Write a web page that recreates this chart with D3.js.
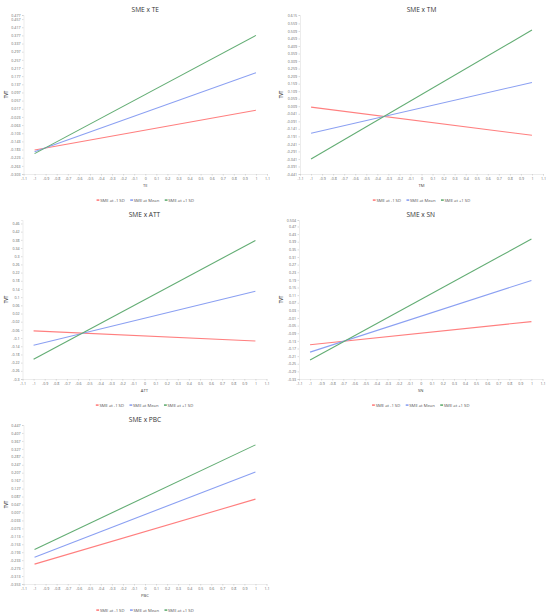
<!DOCTYPE html>
<html>
<head>
<meta charset="utf-8">
<script src="https://cdn.jsdelivr.net/npm/d3@7"></script>
<style>
  html, body { margin: 0; padding: 0; background: #fff; }
  svg { display: block; font-family: "Open Sans", "Noto Sans", sans-serif; }
</style>
</head>
<body>
<svg id="chart" width="550" height="616"></svg>
<script>
// ---------- data ----------
const xValues = [-1, 1];
const seriesNames = ["SME at -1 SD", "SME at Mean", "SME at +1 SD"];
const xTicks = [-1.1, -1, -0.9, -0.8, -0.7, -0.6, -0.5, -0.4, -0.3, -0.2, -0.1, 0, 0.1, 0.2, 0.3, 0.4, 0.5, 0.6, 0.7, 0.8, 0.9, 1, 1.1];

const panelTitles = ["SME x TE", "SME x TM", "SME x ATT", "SME x SN", "SME x PBC"];
const xTitles = ["TE", "TM", "ATT", "SN", "PBC"];

const teLow = [-0.185, 0.010];
const teMean = [-0.194, 0.194];
const teHigh = [-0.203, 0.377];
const teYTicks = [-0.303, -0.263, -0.223, -0.183, -0.143, -0.103, -0.063, -0.023, 0.017, 0.057, 0.097, 0.137, 0.177, 0.217, 0.257, 0.297, 0.337, 0.377, 0.417, 0.457, 0.477];
const teYDomain = [-0.303, 0.477];

const tmLow = [0.003, -0.184];
const tmMean = [-0.170, 0.167];
const tmHigh = [-0.341, 0.515];
const tmYTicks = [-0.441, -0.391, -0.341, -0.291, -0.241, -0.191, -0.141, -0.091, -0.041, 0.009, 0.059, 0.109, 0.159, 0.209, 0.259, 0.309, 0.359, 0.409, 0.459, 0.509, 0.559, 0.615];
const tmYDomain = [-0.441, 0.615];

const attLow = [-0.065, -0.114];
const attMean = [-0.135, 0.129];
const attHigh = [-0.204, 0.377];
const attYTicks = [-0.3, -0.26, -0.22, -0.18, -0.14, -0.1, -0.06, -0.02, 0.02, 0.06, 0.1, 0.14, 0.18, 0.22, 0.26, 0.3, 0.34, 0.38, 0.42, 0.46];
const attYDomain = [-0.3, 0.477];

const snLow = [-0.150, -0.029];
const snMean = [-0.189, 0.187];
const snHigh = [-0.230, 0.404];
const snYTicks = [-0.33, -0.29, -0.25, -0.21, -0.17, -0.13, -0.09, -0.05, -0.01, 0.03, 0.07, 0.11, 0.15, 0.19, 0.23, 0.27, 0.31, 0.35, 0.39, 0.43, 0.47, 0.504];
const snYDomain = [-0.33, 0.504];

const pbcLow = [-0.253, 0.074];
const pbcMean = [-0.218, 0.211];
const pbcHigh = [-0.179, 0.347];
const pbcYTicks = [-0.353, -0.313, -0.273, -0.233, -0.193, -0.153, -0.113, -0.073, -0.033, 0.007, 0.047, 0.087, 0.127, 0.167, 0.207, 0.247, 0.287, 0.327, 0.367, 0.407, 0.447];
const pbcYDomain = [-0.353, 0.447];

// ---------- styling / layout ----------
const colors = ["#ff7f7f", "#8ba0f2", "#63ad74"];
const panels = [
  { series: [teLow, teMean, teHigh], ticks: teYTicks, domain: teYDomain, ox: 0, oy: 0, left: 23.5, right: 267 },
  { series: [tmLow, tmMean, tmHigh], ticks: tmYTicks, domain: tmYDomain, ox: 275, oy: 0, left: 25, right: 268 },
  { series: [attLow, attMean, attHigh], ticks: attYTicks, domain: attYDomain, ox: 0, oy: 205, left: 22.5, right: 266.5 },
  { series: [snLow, snMean, snHigh], ticks: snYTicks, domain: snYDomain, ox: 275, oy: 205, left: 24, right: 267.5 },
  { series: [pbcLow, pbcMean, pbcHigh], ticks: pbcYTicks, domain: pbcYDomain, ox: 0, oy: 410, left: 23.5, right: 266.5 }
];

const svg = d3.select("#chart");
const fmt = v => String(+v.toFixed(3));

panels.forEach((p, i) => {
  const g = svg.append("g").attr("transform", `translate(${p.ox},${p.oy})`);
  const top = 15, bottom = 174;
  const x = d3.scaleLinear().domain([-1.1, 1.1]).range([p.left, p.right]);
  const y = d3.scaleLinear().domain(p.domain).range([bottom, top]);

  // title
  g.append("text").attr("x", (p.left + p.right) / 2).attr("y", 11.5)
    .attr("text-anchor", "middle").attr("font-size", 6.6).attr("fill", "#333")
    .text(panelTitles[i]);

  // y axis
  const yAxis = d3.axisLeft(y).tickValues(p.ticks).tickFormat(fmt).tickSize(1.5).tickPadding(1.5);
  const ya = g.append("g").attr("transform", `translate(${p.left},0)`).call(yAxis);
  ya.select(".domain").attr("stroke", "#d9d9d9").attr("stroke-width", 0.5);
  ya.selectAll(".tick line").attr("stroke", "#bbb").attr("stroke-width", 0.5);
  ya.selectAll(".tick text").attr("font-size", 3.6).attr("fill", "#666").attr("font-family", "Open Sans, sans-serif");

  // x axis
  const xAxis = d3.axisBottom(x).tickValues(xTicks).tickFormat(fmt).tickSize(1.5).tickPadding(1.5);
  const xa = g.append("g").attr("transform", `translate(0,${bottom})`).call(xAxis);
  xa.select(".domain").attr("stroke", "#d9d9d9").attr("stroke-width", 0.5);
  xa.selectAll(".tick line").attr("stroke", "#bbb").attr("stroke-width", 0.5);
  xa.selectAll(".tick text").attr("font-size", 3.6).attr("fill", "#666").attr("font-family", "Open Sans, sans-serif");

  // axis titles
  g.append("text").attr("x", (p.left + p.right) / 2).attr("y", 186.5)
    .attr("text-anchor", "middle").attr("font-size", 4.2).attr("fill", "#444")
    .text(xTitles[i]);
  g.append("text").attr("transform", `translate(7.5,${(top + bottom) / 2}) rotate(-90)`)
    .attr("text-anchor", "middle").attr("font-size", 4.4).attr("font-weight", 600).attr("fill", "#444")
    .text("TVT");

  // lines
  const line = d3.line().x((d, j) => x(xValues[j])).y(d => y(d));
  p.series.forEach((s, k) => {
    g.append("path").datum(s).attr("d", line)
      .attr("fill", "none").attr("stroke", colors[k]).attr("stroke-width", 1.1);
  });

  // legend
  const lg = g.append("g");
  let cx = 0;
  const items = [];
  seriesNames.forEach((name, k) => {
    const it = lg.append("g").attr("transform", `translate(${cx},0)`);
    it.append("rect").attr("x", 0).attr("y", -2.2).attr("width", 2.8).attr("height", 1.6).attr("fill", colors[k]);
    const t = it.append("text").attr("x", 3.6).attr("y", 0).attr("font-size", 4.2).attr("fill", "#555").text(name);
    const w = t.node().getComputedTextLength();
    cx += 3.6 + w + 5.5;
  });
  const total = cx - 5.5;
  lg.attr("transform", `translate(${(p.left + p.right) / 2 - total / 2},201.5)`);
});
</script>
</body>
</html>
